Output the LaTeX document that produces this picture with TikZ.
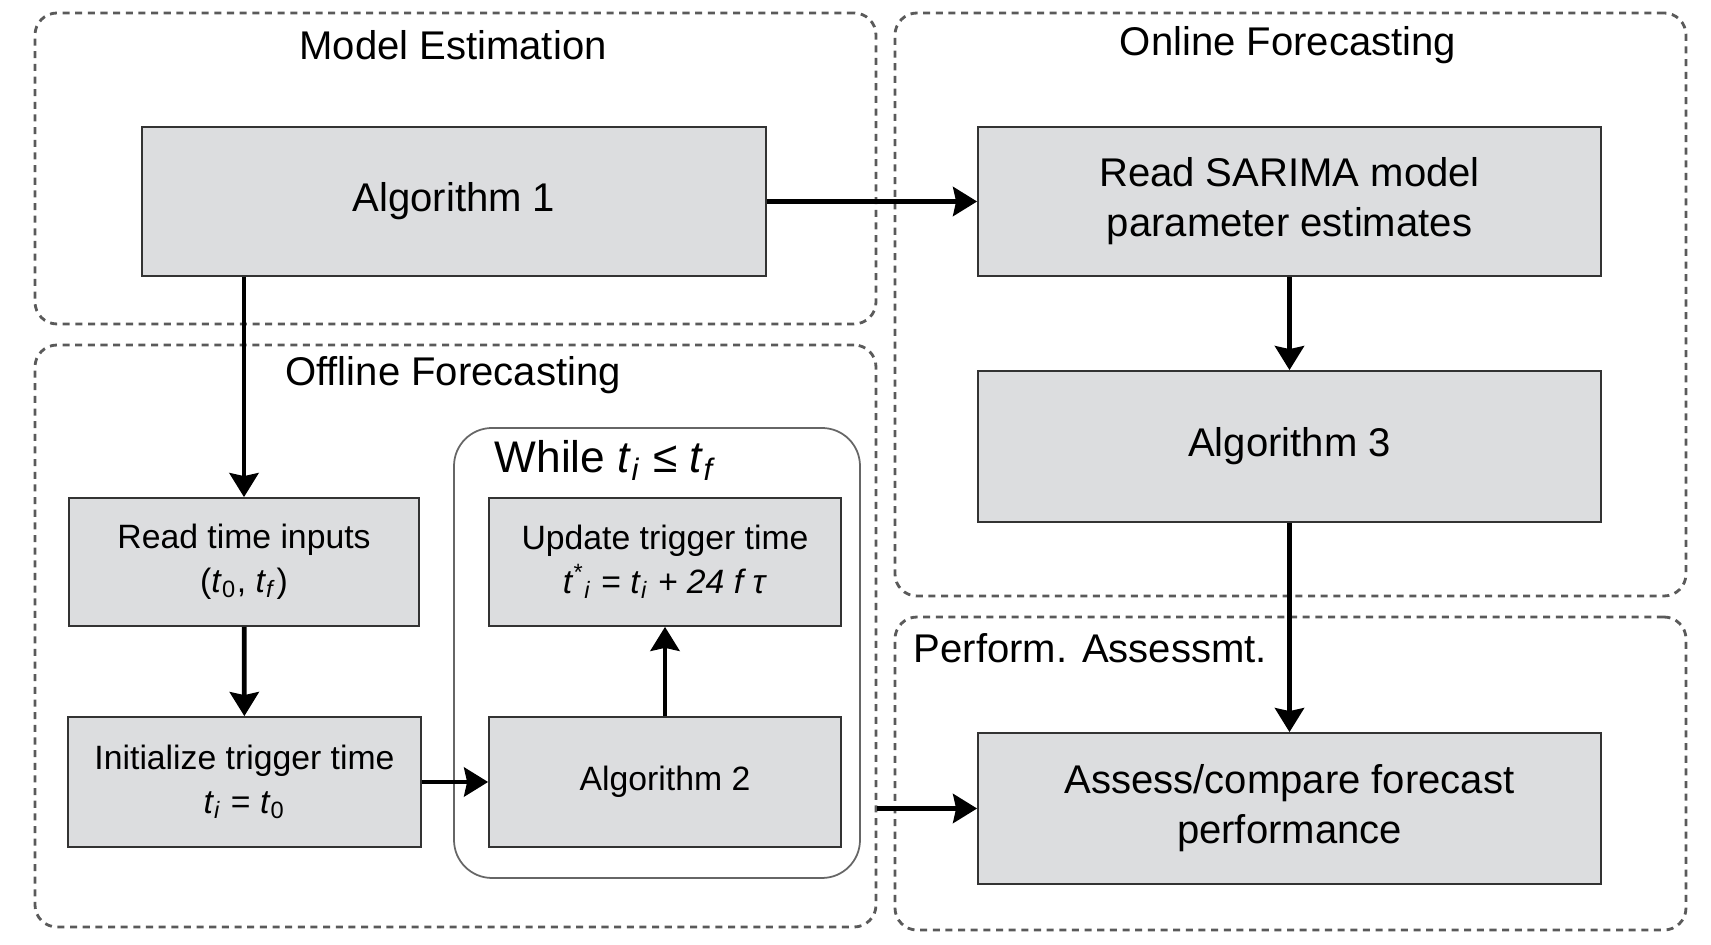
\documentclass[tikz,border=0pt]{standalone}
\usepackage{fontspec}
\setmainfont{Liberation Sans}
\usepackage{xcolor}
\usepackage{tikz}
\usetikzlibrary{arrows.meta,positioning,calc}
\definecolor{boxfill}{HTML}{DCDDDF}
\definecolor{grpline}{HTML}{5A5A5A}
\newcommand{\tvar}[1]{\textit{t}\textsubscript{#1}}

\begin{document}
\begin{tikzpicture}[
  blk/.style={draw=black!80,line width=0.5pt,fill=boxfill,align=center,inner sep=2pt},
  big/.style={blk,font=\fontsize{11.4}{14.3}\selectfont},
  small/.style={blk,font=\fontsize{9.6}{12.4}\selectfont},
  grp/.style={draw=grpline,line width=0.8pt,dash pattern=on 2pt off 1.6pt,rounded corners=0.22cm},
  ttl/.style={font=\fontsize{11.4}{14}\selectfont,inner sep=0pt},
  arr/.style={-{Stealth[length=2.4mm,width=2.9mm,inset=0.3mm]},line width=1.35pt}]
\useasboundingbox (0,0) rectangle (17.11,-9.45);
% groups
\node[grp,minimum width=8.41cm,minimum height=3.11cm] (gmod)  at (4.555,-1.685) {};
\node[grp,minimum width=7.91cm,minimum height=5.83cm] (gon)   at (12.905,-3.045) {};
\node[grp,minimum width=8.41cm,minimum height=5.82cm] (goff)  at (4.555,-6.36) {};
\node[grp,minimum width=7.91cm,minimum height=3.13cm] (gperf) at (12.905,-7.735) {};
\node[draw=black!60,line width=0.5pt,rounded corners=0.38cm,minimum width=4.06cm,minimum height=4.50cm] (wloop) at (6.57,-6.53) {};
% titles
\node[ttl] (tmod)  at (4.53,-0.45) {Model Estimation};
\node[ttl] (ton)   at (12.88,-0.45) {Online Forecasting};
\node[ttl] (toff)  at (4.53,-3.75) {Offline Forecasting};
\node[ttl,anchor=west] (tperf) at (9.13,-6.48) {Perform. Assessmt.};
\node[ttl,anchor=west,font=\fontsize{12.6}{15}\selectfont] (twhile) at (4.94,-4.60) {While \tvar{\textit{i}} ≤ \tvar{\textit{f}}};
% boxes
\node[big,minimum width=6.24cm,minimum height=1.49cm] (alg1)   at (4.54,-2.015) {Algorithm 1};
\node[big,minimum width=6.23cm,minimum height=1.49cm] (sarima) at (12.895,-2.015) {Read SARIMA model\\parameter estimates};
\node[big,minimum width=6.23cm,minimum height=1.51cm] (alg3)   at (12.895,-4.465) {Algorithm 3};
\node[big,minimum width=6.23cm,minimum height=1.51cm] (assess) at (12.895,-8.085) {Assess/compare forecast\\performance};
\node[small,minimum width=3.50cm,minimum height=1.28cm] (readt) at (2.44,-5.62) {Read time inputs\\(\tvar{0}, \tvar{\textit{f}})};
\node[small,minimum width=3.53cm,minimum height=1.30cm] (init)  at (2.445,-7.82) {Initialize trigger time\\\tvar{\textit{i}} = \tvar{0}};
\node[small,minimum width=3.52cm,minimum height=1.28cm] (upd)   at (6.65,-5.62) {Update trigger time\\\textit{t}\textsuperscript{*}\textsubscript{\textit{i}} = \tvar{\textit{i}} \textit{+ 24 f τ}};
\node[small,minimum width=3.52cm,minimum height=1.30cm] (alg2)  at (6.65,-7.82) {Algorithm 2};
% connectors
\draw[arr] (alg1) -- (sarima);
\draw[arr] (alg1.south -| readt.north) -- (readt);
\draw[arr] (readt) -- (init);
\draw[arr] (init) -- (alg2);
\draw[arr] (alg2) -- (upd);
\draw[arr] (sarima) -- (alg3);
\draw[arr] (alg3) -- (assess);
\draw[arr] (goff.east |- assess.west) -- (assess.west);
\end{tikzpicture}
\end{document}
